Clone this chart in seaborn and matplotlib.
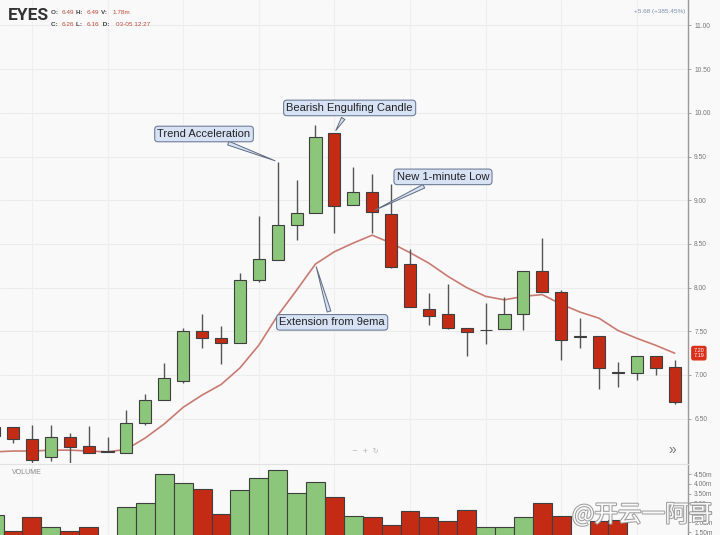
import numpy as np
import matplotlib
matplotlib.use('Agg')
import matplotlib.pyplot as plt
import matplotlib.patheffects as pe
import seaborn as sns

# datos (velas de 1 minuto, la primera sale cortada)
opens = [6.30, 6.40, 6.27, 6.06, 6.29, 6.19, 6.115, 6.11, 6.45, 6.71, 6.93, 7.50, 7.42,
         7.37, 8.09, 8.32, 8.72, 8.85, 9.77, 8.95, 9.09, 8.84, 8.27, 7.76, 7.70, 7.54,
         7.51, 7.53, 7.70, 8.19, 7.95, 7.44, 7.45, 7.03, 7.02, 7.22, 7.09]
closes = [6.40, 6.27, 6.03, 6.29, 6.18, 6.11, 6.125, 6.45, 6.71, 6.97, 7.50, 7.42, 7.37,
          8.09, 8.33, 8.72, 8.85, 9.72, 8.93, 9.09, 8.87, 8.24, 7.78, 7.68, 7.54, 7.49,
          7.52, 7.70, 8.19, 7.95, 7.40, 7.45, 7.08, 7.02, 7.22, 7.08, 6.69]
highs = [6.42, 6.40, 6.43, 6.43, 6.34, 6.42, 6.29, 6.60, 6.78, 7.14, 7.54, 7.70, 7.56,
         8.17, 8.82, 9.44, 9.23, 9.86, 9.77, 9.38, 9.30, 9.19, 8.44, 7.94, 8.04, 7.54,
         7.82, 7.89, 8.19, 8.57, 7.97, 7.65, 7.45, 7.15, 7.22, 7.22, 7.17]
lows = [6.28, 6.22, 5.99, 6.02, 5.98, 6.11, 6.12, 6.11, 6.43, 6.71, 6.91, 7.31, 7.13,
        7.37, 8.06, 8.32, 8.55, 8.85, 8.62, 8.95, 8.63, 8.22, 7.78, 7.57, 7.53, 7.22,
        7.35, 7.53, 7.52, 7.95, 7.17, 7.31, 6.84, 6.86, 6.94, 7.00, 6.67]
ema9 = [6.12, 6.13, 6.13, 6.14, 6.14, 6.13, 6.12, 6.15, 6.28, 6.44, 6.63, 6.77, 6.89,
        7.08, 7.34, 7.68, 7.97, 8.27, 8.41, 8.51, 8.60, 8.51, 8.40, 8.28, 8.13, 8.00,
        7.90, 7.86, 7.90, 7.92, 7.81, 7.72, 7.65, 7.51, 7.42, 7.34, 7.25]
volumen = [2.39, 1.55, 2.28, 1.76, 1.55, 1.76, 1.20, 2.80, 3.01, 4.52, 4.05, 3.74, 2.44,
           3.69, 4.31, 4.73, 3.53, 4.10, 3.32, 2.33, 2.28, 1.86, 2.59, 2.28, 2.07, 2.65,
           1.76, 1.76, 2.28, 3.01, 2.33, 1.30, 2.07, 2.12, 1.30, 1.30, 1.30]
price_ticks = [6.5, 7.0, 7.5, 8.0, 8.5, 9.0, 9.5, 10.0, 10.5, 11.0]
vol_ticks = [1.5, 2.0, 2.5, 3.0, 3.5, 4.0, 4.5]

VERDE = '#8cc67a'
ROJO = '#c42b14'
BORDE = '#3f3f3f'
FONDO = '#f9f9f9'

x = np.arange(len(opens))
sube = [c >= o for o, c in zip(opens, closes)]
dir_txt = ['up' if s else 'down' for s in sube]

sns.set_theme(style='white')
plt.rcParams['font.family'] = ['Liberation Sans', 'DejaVu Sans']

fig = plt.figure(figsize=(7.2, 5.35), dpi=100, facecolor=FONDO)
ax_p = fig.add_axes([0, 72 / 535, 688 / 720, 463 / 535], facecolor=FONDO)
ax_v = fig.add_axes([0, 0, 688 / 720, 71 / 535], facecolor=FONDO)

# rejilla muy suave
for t in price_ticks:
    ax_p.axhline(t, color='#ececec', lw=0.8, zorder=0)
for xv in x[2::4]:
    ax_p.axvline(xv, color='#efefef', lw=0.8, zorder=0)
    ax_v.axvline(xv, color='#efefef', lw=0.8, zorder=0)

# media exponencial de 9 periodos
sns.lineplot(x=x, y=ema9, color='#c97b72', lw=1.2, ax=ax_p, zorder=2)

# velas
ax_p.vlines(x, lows, highs, color='#555555', lw=1.0, zorder=3)
cuerpo_bajo = [min(o, c) for o, c in zip(opens, closes)]
cuerpo_alto = [max(abs(c - o), 0.008) for o, c in zip(opens, closes)]
ax_p.bar(x, cuerpo_alto, bottom=cuerpo_bajo, width=0.64,
         color=[VERDE if s else ROJO for s in sube],
         edgecolor=BORDE, linewidth=0.8, zorder=4)

ax_p.set_xlim(0.31, 36.71)
ax_p.set_ylim(5.993, 11.291)

# volumen
sns.barplot(x=x, y=volumen, hue=dir_txt, palette={'up': VERDE, 'down': ROJO},
            dodge=False, width=1.0, saturation=1, edgecolor=BORDE, linewidth=0.8,
            legend=False, ax=ax_v, zorder=3)
ax_v.set_xlim(0.31, 36.71)
ax_v.set_ylim(1.344, 5.04)

# ejes a la derecha
for ax, ticks, fmt in [(ax_p, price_ticks, '{:.2f}'), (ax_v, vol_ticks, '{:.2f}m')]:
    ax.set_xticks([])
    ax.set_xlabel('')
    ax.set_ylabel('')
    ax.yaxis.tick_right()
    ax.set_yticks(ticks)
    ax.set_yticklabels([fmt.format(t) for t in ticks])
    ax.tick_params(axis='y', labelsize=4.8, labelcolor='#777777', colors='#999999',
                   length=2.5, width=0.6, pad=2, right=True)
    for s in ['left', 'top', 'bottom']:
        ax.spines[s].set_visible(False)
    ax.spines['right'].set_color('#9a9a9a')
    ax.spines['right'].set_linewidth(1.0)
for lab in ax_p.get_yticklabels() + ax_v.get_yticklabels():
    lab.set_color('#777777')
ax_v.spines['top'].set_visible(True)
ax_v.spines['top'].set_color('#e2e2e2')
ax_v.spines['top'].set_linewidth(0.8)

# anotaciones
caja = dict(boxstyle='round,pad=0.25,rounding_size=0.3', fc='#d7e2f5', ec='#6f7e98', lw=0.8)
flecha = dict(arrowstyle='wedge,tail_width=0.35,shrink_factor=0.5', fc='#d7e2f5',
              ec='#5f6b80', lw=0.7)
notas = [
    ('Trend Acceleration', 15, highs[15], (-53, 20)),
    ('Bearish Engulfing Candle', 18, opens[18], (11, 18)),
    ('New 1-minute Low', 20, closes[20], (51, 25)),
    ('Extension from 9ema', 17, ema9[17], (12, -42)),
]
for txt, i, yv, off in notas:
    ax_p.annotate(txt, xy=(x[i], yv), xytext=off, textcoords='offset points',
                  ha='center', va='center', fontsize=8, color='#222222',
                  bbox=caja, arrowprops=flecha, zorder=6)

# etiqueta del ultimo valor
ax_p.text(1.008, ema9[-1], '7.20\n7.19', transform=ax_p.get_yaxis_transform(),
          ha='left', va='center', fontsize=4, color='white', linespacing=1.0,
          bbox=dict(boxstyle='round,pad=0.3', fc='#d9301c', ec='#d9301c'),
          clip_on=False, zorder=7)

# cabecera
fig.text(8 / 720, 1 - 15 / 535, 'EYES', fontsize=12.5, fontweight='bold',
         color='#333333', family=['Roboto', 'DejaVu Sans'], va='center')
fila1 = [('O: ', '#444444'), ('6.49', '#c0493a'), ('H: ', '#444444'), ('6.49', '#c0493a'),
         ('V: ', '#444444'), ('1.78m', '#c0493a')]
fila2 = [('C: ', '#444444'), ('6.26', '#c0493a'), ('L: ', '#444444'), ('6.16', '#c0493a'),
         (' D: ', '#444444'), ('03-05 12:27', '#c0493a')]
for fila, yy in [(fila1, 12), (fila2, 24)]:
    xx = 51
    for t, col in fila:
        fig.text(xx / 720, 1 - yy / 535, t, fontsize=4.6, color=col, va='center',
                 fontweight='bold' if col == '#444444' else 'normal')
        xx += len(t) * 3.6
fig.text(685 / 720, 1 - 11 / 535, '+5.68 (+385.45%)', fontsize=4.6, color='#7f8fb0',
         ha='right', va='center')
fig.text(12 / 720, 1 - 473 / 535, 'VOLUME', fontsize=5, color='#888888', va='center')
fig.text(365 / 720, 1 - 451 / 535, '\u2212  +  \u21bb', fontsize=5, color='#b5b5b5',
         ha='center', va='center', family=['DejaVu Sans'])
fig.text(672 / 720, 1 - 450 / 535, '\u00bb', fontsize=10, color='#777777',
         ha='center', va='center')

# marca de agua
fig.text(572 / 720, 1 - 515 / 535, '@开云一阿哥', fontsize=17, color='white',
         family=['Noto Sans CJK SC', 'DejaVu Sans'], va='center',
         path_effects=[pe.withStroke(linewidth=1.5, foreground='#9a9a9a')], alpha=0.95)

fig.savefig('out.png', dpi=100, facecolor=FONDO)
